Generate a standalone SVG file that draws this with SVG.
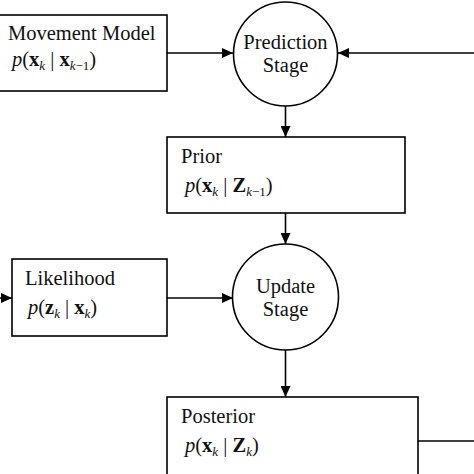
<svg xmlns="http://www.w3.org/2000/svg" width="474" height="474" viewBox="0 0 474 474">
<defs>
<style>
.box{fill:#fff;stroke:#000;stroke-width:1.6}
.node{fill:#fff;stroke:#000;stroke-width:1.6}
.edge{fill:none;stroke:#000;stroke-width:1.6}
text{font-family:"Liberation Serif","Times New Roman",serif;font-size:20.5px;fill:#111}
.c{text-anchor:middle}
.i{font-style:italic}
.b{font-weight:bold}
.s{font-size:13px}
</style>
<marker id="ah" markerUnits="userSpaceOnUse" markerWidth="12" markerHeight="10" refX="11" refY="5" orient="auto">
<path d="M0,0 L11,5 L0,10 Z" fill="#000"/>
</marker>
</defs>
<rect width="474" height="474" fill="#fff"/>
<g id="connectors">
<line class="edge" x1="167" y1="53" x2="233" y2="53" marker-end="url(#ah)"/>
<line class="edge" x1="474" y1="53" x2="338" y2="53" marker-end="url(#ah)"/>
<line class="edge" x1="285.5" y1="106" x2="285.5" y2="137" marker-end="url(#ah)"/>
<line class="edge" x1="285.5" y1="213" x2="285.5" y2="244" marker-end="url(#ah)"/>
<line class="edge" x1="0" y1="298" x2="12" y2="298" marker-end="url(#ah)"/>
<line class="edge" x1="167" y1="298" x2="233" y2="298" marker-end="url(#ah)"/>
<line class="edge" x1="285.5" y1="350" x2="285.5" y2="397" marker-end="url(#ah)"/>
<line class="edge" x1="418" y1="441" x2="474" y2="441"/>
</g>
<g id="movement">
<rect class="box" x="-5" y="15" width="172" height="76"/>
<text x="8" y="40">Movement Model</text>
<text x="12" y="66"><tspan class="i">p</tspan>(<tspan class="b">x</tspan><tspan class="s i" dy="4">k</tspan><tspan dy="-4"> | </tspan><tspan class="b">x</tspan><tspan class="s" dy="4"><tspan class="i">k</tspan>−1</tspan><tspan dy="-4">)</tspan></text>
</g>
<g id="prediction">
<circle class="node" cx="285.5" cy="54" r="52"/>
<text class="c" x="285.5" y="49">Prediction</text>
<text class="c" x="285.5" y="72">Stage</text>
</g>
<g id="prior">
<rect class="box" x="167" y="137" width="238" height="76"/>
<text x="181" y="163">Prior</text>
<text x="185" y="192"><tspan class="i">p</tspan>(<tspan class="b">x</tspan><tspan class="s i" dy="4">k</tspan><tspan dy="-4"> | </tspan><tspan class="b">Z</tspan><tspan class="s" dy="4"><tspan class="i">k</tspan>−1</tspan><tspan dy="-4">)</tspan></text>
</g>
<g id="likelihood">
<rect class="box" x="12" y="259" width="155" height="77"/>
<text x="25" y="285">Likelihood</text>
<text x="28" y="314"><tspan class="i">p</tspan>(<tspan class="b">z</tspan><tspan class="s i" dy="4">k</tspan><tspan dy="-4"> | </tspan><tspan class="b">x</tspan><tspan class="s i" dy="4">k</tspan><tspan dy="-4">)</tspan></text>
</g>
<g id="update">
<circle class="node" cx="285.5" cy="297" r="53"/>
<text class="c" x="285.5" y="293">Update</text>
<text class="c" x="285.5" y="316">Stage</text>
</g>
<g id="posterior">
<rect class="box" x="167" y="397" width="251" height="90"/>
<text x="181" y="423">Posterior</text>
<text x="185" y="452"><tspan class="i">p</tspan>(<tspan class="b">x</tspan><tspan class="s i" dy="4">k</tspan><tspan dy="-4"> | </tspan><tspan class="b">Z</tspan><tspan class="s i" dy="4">k</tspan><tspan dy="-4">)</tspan></text>
</g>
</svg>
